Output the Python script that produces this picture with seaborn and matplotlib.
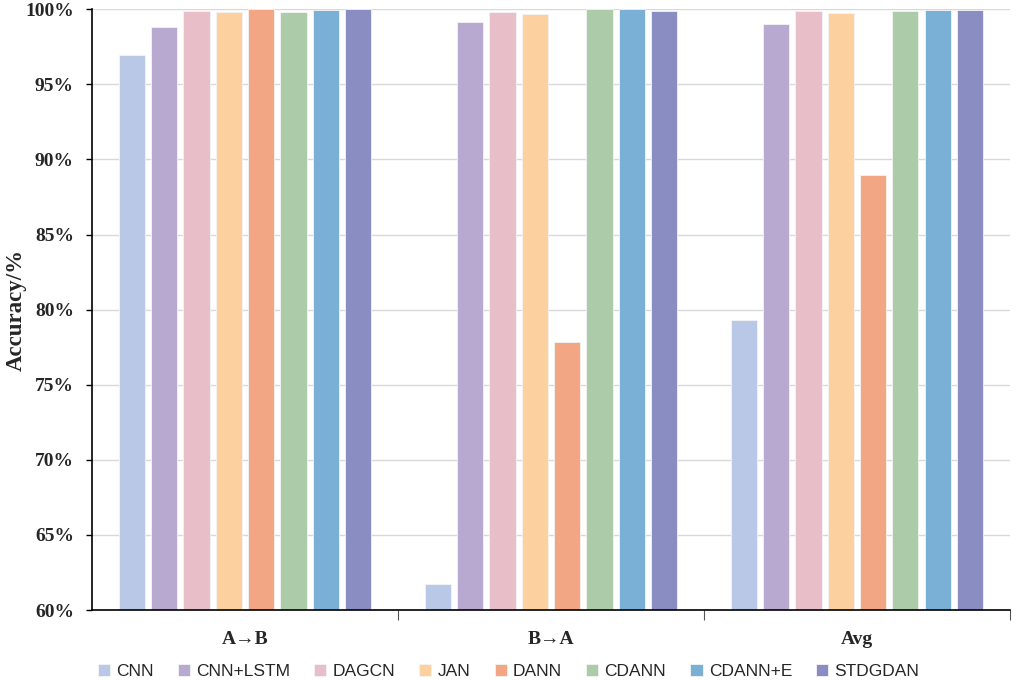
import matplotlib
matplotlib.use("Agg")
import matplotlib.pyplot as plt
import seaborn as sns
import pandas as pd
import numpy as np
from matplotlib.ticker import FixedLocator, FuncFormatter

tasks = ["A→B", "B→A", "Avg"]
methods = ["CNN", "CNN+LSTM", "DAGCN", "JAN", "DANN", "CDANN", "CDANN+E", "STDGDAN"]
acc_AB = [96.95, 98.82, 99.90, 99.82, 100.00, 99.82, 99.95, 100.00]
acc_BA = [61.70, 99.18, 99.82, 99.66, 77.86, 100.00, 100.00, 99.90]
acc_Avg = [79.33, 99.02, 99.89, 99.75, 88.95, 99.91, 99.95, 99.95]
colors = ["#B8C8E6", "#B7A9D0", "#E8BEC9", "#FDD09F", "#F3A684", "#ACCBA8", "#7AAFD6", "#8A8DC2"]
yticks = [60, 65, 70, 75, 80, 85, 90, 95, 100]

rows = []
for task, vals in zip(tasks, [acc_AB, acc_BA, acc_Avg]):
    for m, v in zip(methods, vals):
        rows.append({"Task": task, "Method": m, "Accuracy": v})
df = pd.DataFrame(rows)

sns.set_theme(style="white")
serif = ["Liberation Serif", "DejaVu Serif"]
sans = ["Liberation Sans", "DejaVu Sans"]
plt.rcParams["font.family"] = sans

fig = plt.figure(figsize=(10.17, 6.80), dpi=100)
ax = fig.add_axes([0.0905, 0.1029, 0.9025, 0.8834])

sns.barplot(data=df, x="Task", y="Accuracy", hue="Method", order=tasks,
            hue_order=methods, palette=colors, saturation=1, width=0.845, gap=0.19,
            edgecolor="#f4f4f4", linewidth=0.6, ax=ax, legend=True)

ax.set_ylim(60, 100)
ax.set_xlim(-0.5, 2.5)
ax.yaxis.set_major_locator(FixedLocator(yticks))
ax.yaxis.set_major_formatter(FuncFormatter(lambda v, p: f"{int(v)}%"))
ax.grid(axis="y", color="#d9d9d9", linewidth=1.0)
ax.set_axisbelow(True)

for s in ["top", "right"]:
    ax.spines[s].set_visible(False)
for s in ["left", "bottom"]:
    ax.spines[s].set_color("black")
    ax.spines[s].set_linewidth(1.2)
ax.spines["bottom"].set_zorder(5)

ax.tick_params(axis="y", which="major", left=True, length=4, width=1.0,
               color="black", pad=9)
ax.tick_params(axis="x", which="major", bottom=False, pad=9)
ax.xaxis.set_minor_locator(FixedLocator([0.5, 1.5, 2.5]))
ax.tick_params(axis="x", which="minor", bottom=True, length=7, width=0.8, color="#555555")

for lab in ax.get_yticklabels():
    lab.set_fontfamily(serif)
    lab.set_fontweight("bold")
    lab.set_fontsize(14)
for lab in ax.get_xticklabels():
    lab.set_fontfamily(serif)
    lab.set_fontweight("bold")
    lab.set_fontsize(14)

ax.set_xlabel("")
ax.set_ylabel("Accuracy/%", fontfamily=serif, fontweight="bold", fontsize=16.5)
ax.yaxis.set_label_coords(-0.071, 0.5)

handles, labels = ax.get_legend_handles_labels()
ax.get_legend().remove()
fig.legend(handles, labels, loc="lower center", bbox_to_anchor=(0.5, -0.022), ncol=8,
           frameon=False, fontsize=12.5, handlelength=0.7, handleheight=0.7,
           handletextpad=0.35, columnspacing=1.4)

fig.savefig("out.png", dpi=100)
